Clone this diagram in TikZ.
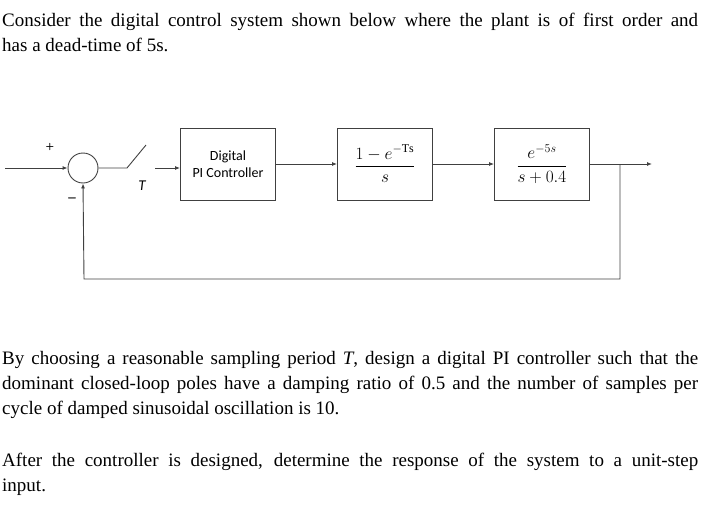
\documentclass[tikz,border=0pt]{standalone}
\usepackage{fontspec}
\setmainfont{Liberation Serif}
\newfontfamily\calfnt{Carlito}
\usetikzlibrary{arrows.meta}
\newcommand{\jl}[1]{\makebox[696pt][s]{#1}}
\begin{document}
\begin{tikzpicture}[x=1pt,y=-1pt,
  line/.style={draw=black!75,line width=0.9pt},
  arr/.style={line,-{Latex[length=5pt,width=4pt]}},
  blk/.style={draw=black!75,line width=0.9pt,minimum width=95pt,minimum height=72pt,inner sep=0pt},
  txt/.style={anchor=base west,inner sep=0pt,font=\fontsize{19}{22}\selectfont}]
\useasboundingbox (0,0) rectangle (702,525);
\node[txt] (t1) at (2,26) {\jl{Consider the digital control system shown below where the plant is of first order and}};
\node[txt] (t2) at (2,51) {has a dead-time of 5s.};
\node[txt] (t3) at (2,364) {\jl{By choosing a reasonable sampling period \textit{T}, design a digital PI controller such that the}};
\node[txt] (t4) at (2,389) {\jl{dominant closed-loop poles have a damping ratio of 0.5 and the number of samples per}};
\node[txt] (t5) at (2,414) {cycle of damped sinusoidal oscillation is 10.};
\node[txt] (t6) at (2,466) {\jl{After the controller is designed, determine the response of the system to a unit-step}};
\node[txt] (t7) at (2,491) {input.};
% diagram
\coordinate (in) at (5,168);
\node[circle,draw=black!75,line width=0.9pt,minimum size=30pt,inner sep=0pt] (sum) at (83,168) {};
\node[font=\sffamily\bfseries] (plus) at (50,147) {+};
\node[font=\sffamily\bfseries\Large] (minus) at (72,200) {\textendash};
\coordinate (s1) at (127,168);
\coordinate (s2) at (146,145);
\coordinate (s3) at (155,168);
\node[font=\calfnt\itshape\fontsize{15}{17}\selectfont] (T) at (142,186) {T};
\node[blk,font=\calfnt\fontsize{14}{17}\selectfont,align=center] (pi) at (228,164) {Digital\\PI Controller};
\node[blk,font=\fontsize{17}{20}\selectfont] (zoh) at (385,164) {$\displaystyle\frac{1-e^{-\mathrm{Ts}}}{s}$};
\node[blk,font=\fontsize{17}{20}\selectfont] (pl) at (542,164) {$\displaystyle\frac{e^{-5s}}{s+0.4}$};
\coordinate (br) at (620,164);
\coordinate (out) at (652,164);
\coordinate (bot) at (620,279);
\coordinate (bl) at (84,279);
\draw[arr] (in) -- (sum.west);
\draw[line] (sum.east) -- (s1) -- (s2);
\draw[arr] (s3) -- (s3 -| pi.west);
\draw[arr] (pi.east) -- (zoh.west);
\draw[arr] (zoh.east) -- (pl.west);
\draw[arr] (pl.east) -- (out);
\draw[arr] (br) -- (bot) -- (bl) -- (sum.south);
\end{tikzpicture}
\end{document}
